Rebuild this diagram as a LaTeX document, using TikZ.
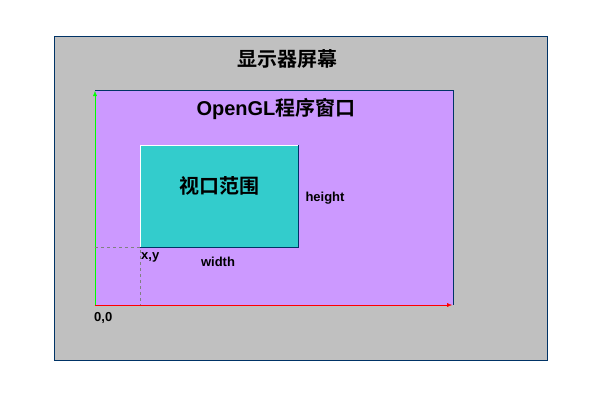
\documentclass[tikz,border=0pt]{standalone}
\usepackage{fontspec}
\setmainfont{Liberation Sans}
\newfontfamily\cjk{Noto Sans CJK SC}[BoldFont={Noto Sans CJK SC Bold}]
\usetikzlibrary{arrows.meta}
\definecolor{screengray}{RGB}{192,192,192}
\definecolor{windowpurple}{RGB}{204,153,255}
\definecolor{viewcyan}{RGB}{51,204,204}
\definecolor{edgeblue}{RGB}{0,51,102}
\definecolor{axisgreen}{RGB}{0,255,0}
\definecolor{axisred}{RGB}{255,0,0}
\begin{document}
\begin{tikzpicture}[x=1pt, y=-1pt,
    headtext/.style={inner sep=0pt, font=\bfseries\fontsize{20}{22}\selectfont},
    dimtext/.style={inner sep=0pt, font=\bfseries\fontsize{13}{15}\selectfont},
    axistip/.style={-{Latex[length=5pt,width=4pt]}}]
        \useasboundingbox (0,0) rectangle (600,400);
        % screen
        \filldraw [fill=screengray, draw=edgeblue] (54, 36) rectangle (547, 360);
        \node [headtext] (screentitle) at (287, 59) {\cjk 显示器屏幕};

        % opengl window
        \fill [windowpurple] (95, 90) rectangle (453, 305);
        \draw [edgeblue] (95, 90) -- (453, 90) -- (453, 305);
        \node [headtext] (windowtitle) at (276, 109) {OpenGL\cjk 程序窗口};
        \coordinate (origin) at (95, 305);
        \coordinate (yend) at (95, 91);
        \coordinate (xend) at (452, 305);
        \draw [axisgreen, axistip] (origin) -- (yend);
        \draw [axisred, axistip] (origin) -- (xend);
        \node [dimtext, anchor=west] (originlabel) at (94, 318) {0,0};

        % viewport
        \coordinate (xy) at (140, 247);
        \draw [gray, dashed] (95, 247) -- (xy) -- (140, 305);
        \fill [viewcyan] (140, 145) rectangle (298, 247);
        \draw [white] (xy) -- (140, 145) -- (298, 145);
        \draw [edgeblue] (298, 145) -- (298, 247) -- (xy);
        \node [headtext] (viewtitle) at (219, 186) {\cjk 视口范围};
        \node [dimtext, anchor=west] (xylabel) at (141, 257) {x,y};
        \node [dimtext] (widthlabel) at (218, 262) {width};
        \node [dimtext] (heightlabel) at (325, 198) {height};
\end{tikzpicture}
\end{document}
